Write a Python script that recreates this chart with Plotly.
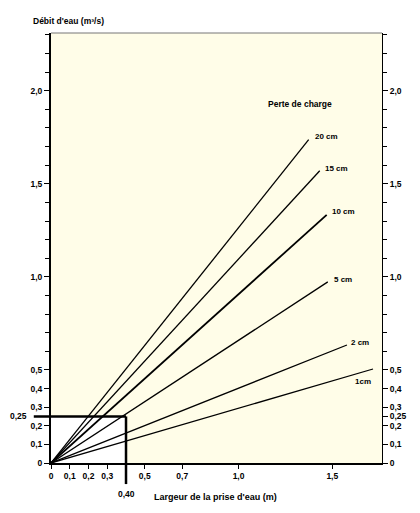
import plotly.graph_objects as go

# pertes de charge et extrémités des droites (largeur m, débit m3/s)
pertes = ["20 cm", "15 cm", "10 cm", "5 cm", "2 cm", "1cm"]
largeur_fin = [1.374, 1.433, 1.470, 1.476, 1.578, 1.717]
debit_fin = [1.737, 1.570, 1.333, 0.973, 0.634, 0.505]

x_ticks = [0, 0.1, 0.2, 0.3, 0.5, 0.7, 1.0, 1.5]
x_labels = ["0", "0,1", "0,2", "0,3", "0,5", "0,7", "1,0", "1,5"]
y_ticks = [0, 0.1, 0.2, 0.25, 0.3, 0.4, 0.5, 1.0, 1.5, 2.0]
y_labels = ["0", "0,1", "0,2", "0,25", "0,3", "0,4", "0,5", "1,0", "1,5", "2,0"]

exemple_largeur = 0.40
exemple_debit = 0.25

XMAX = 1.765
YMAX = 2.31
FONT = "Liberation Sans, Arial, sans-serif"
CREAM = "#fffde8"

fig = go.Figure()

for name, xe, ye in zip(pertes, largeur_fin, debit_fin):
    w = 1.8 if name == "10 cm" else 1.3
    fig.add_trace(go.Scatter(x=[0, xe], y=[0, ye], mode="lines", name=name,
                             line=dict(color="black", width=w), showlegend=False,
                             hoverinfo="skip"))

# trace invisible pour l'axe de droite
fig.add_trace(go.Scatter(x=[0], y=[0], yaxis="y2", mode="markers",
                         marker=dict(opacity=0), showlegend=False, hoverinfo="skip"))

label_font = dict(family=FONT, size=8, color="black", weight="bold")
tick_font = dict(family=FONT, size=8.5, color="black", weight="bold")

# labels des courbes
offsets = {"20 cm": (4, 3, "left"), "15 cm": (3, 2, "left"), "10 cm": (3, 3, "left"),
           "5 cm": (4, 2, "left"), "2 cm": (2, 2, "left"), "1cm": (0, -12, "right")}
for name, xe, ye in zip(pertes, largeur_fin, debit_fin):
    dx, dy, anchor = offsets[name]
    fig.add_annotation(x=xe, y=ye, text=name, showarrow=False, xanchor=anchor,
                       yanchor="middle", xshift=dx, yshift=dy, font=label_font)

fig.add_annotation(x=1.33, y=1.93, text="Perte de charge", showarrow=False,
                   xanchor="center", font=tick_font)

# zone exemple
fig.add_shape(type="rect", x0=0, y0=0, x1=exemple_largeur, y1=exemple_debit,
              xref="x", yref="y", fillcolor="white", line=dict(width=0), layer="below")
fig.add_shape(type="line", xref="paper", yref="y", x0=-0.052, x1=exemple_largeur / XMAX,
              y0=exemple_debit, y1=exemple_debit, line=dict(color="black", width=2.5))
fig.add_shape(type="line", xref="x", yref="paper", x0=exemple_largeur, x1=exemple_largeur,
              y0=-0.049, y1=exemple_debit / YMAX, line=dict(color="black", width=2.5))
# bord supérieur
fig.add_shape(type="line", xref="paper", yref="paper", x0=0, x1=1, y0=1, y1=1,
              line=dict(color="#777777", width=1))

fig.add_annotation(x=0, xref="paper", y=exemple_debit, yref="y", text="0,25",
                   showarrow=False, xanchor="right", xshift=-22, font=tick_font)
fig.add_annotation(x=exemple_largeur, xref="x", y=0, yref="paper", text="0,40",
                   showarrow=False, yanchor="middle", yshift=-31, font=tick_font)

fig.add_annotation(x=0, xref="paper", y=1, yref="paper", text="Débit d'eau (m³/s)",
                   showarrow=False, xanchor="left", yanchor="middle", xshift=-20, yshift=12,
                   font=tick_font)
fig.add_annotation(x=0.5, xref="paper", y=0, yref="paper",
                   text="Largeur de la prise d'eau (m)",
                   showarrow=False, xanchor="center", yanchor="middle", xshift=-1, yshift=-34,
                   font=dict(family=FONT, size=9, color="black", weight="bold"))

left_labels = ["" if v == 0.25 else t for v, t in zip(y_ticks, y_labels)]

# la page ajoute 8 px de marge autour du graphique
fig.update_layout(
    width=412, height=505,
    margin=dict(l=43, r=38, t=25, b=50, autoexpand=False),
    paper_bgcolor="white",
    plot_bgcolor=CREAM,
    showlegend=False,
    xaxis=dict(range=[0, XMAX], tickvals=x_ticks, ticktext=x_labels, showgrid=False,
               zeroline=False, showline=True, linecolor="black", linewidth=2,
               ticks="outside", ticklen=4, tickcolor="black", tickwidth=1,
               tickfont=tick_font, automargin=False),
    yaxis=dict(range=[0, YMAX], tickvals=y_ticks, ticktext=left_labels, showgrid=False,
               zeroline=False, showline=True, linecolor="black", linewidth=2,
               ticks="outside", ticklen=5, tickcolor="black", tickwidth=1,
               tickfont=tick_font, automargin=False,
               minor=dict(tick0=0, dtick=0.1, ticks="outside", ticklen=4,
                          tickcolor="black", showgrid=False)),
    yaxis2=dict(range=[0, YMAX], overlaying="y", side="right", tickvals=y_ticks,
                ticktext=y_labels, showgrid=False, zeroline=False, showline=True,
                linecolor="black", linewidth=1, ticks="outside", ticklen=5,
                tickcolor="black", tickwidth=1, tickfont=tick_font, automargin=False,
                minor=dict(tick0=0, dtick=0.1, ticks="outside", ticklen=4,
                           tickcolor="black", showgrid=False)),
)

fig.write_html("out.html")
